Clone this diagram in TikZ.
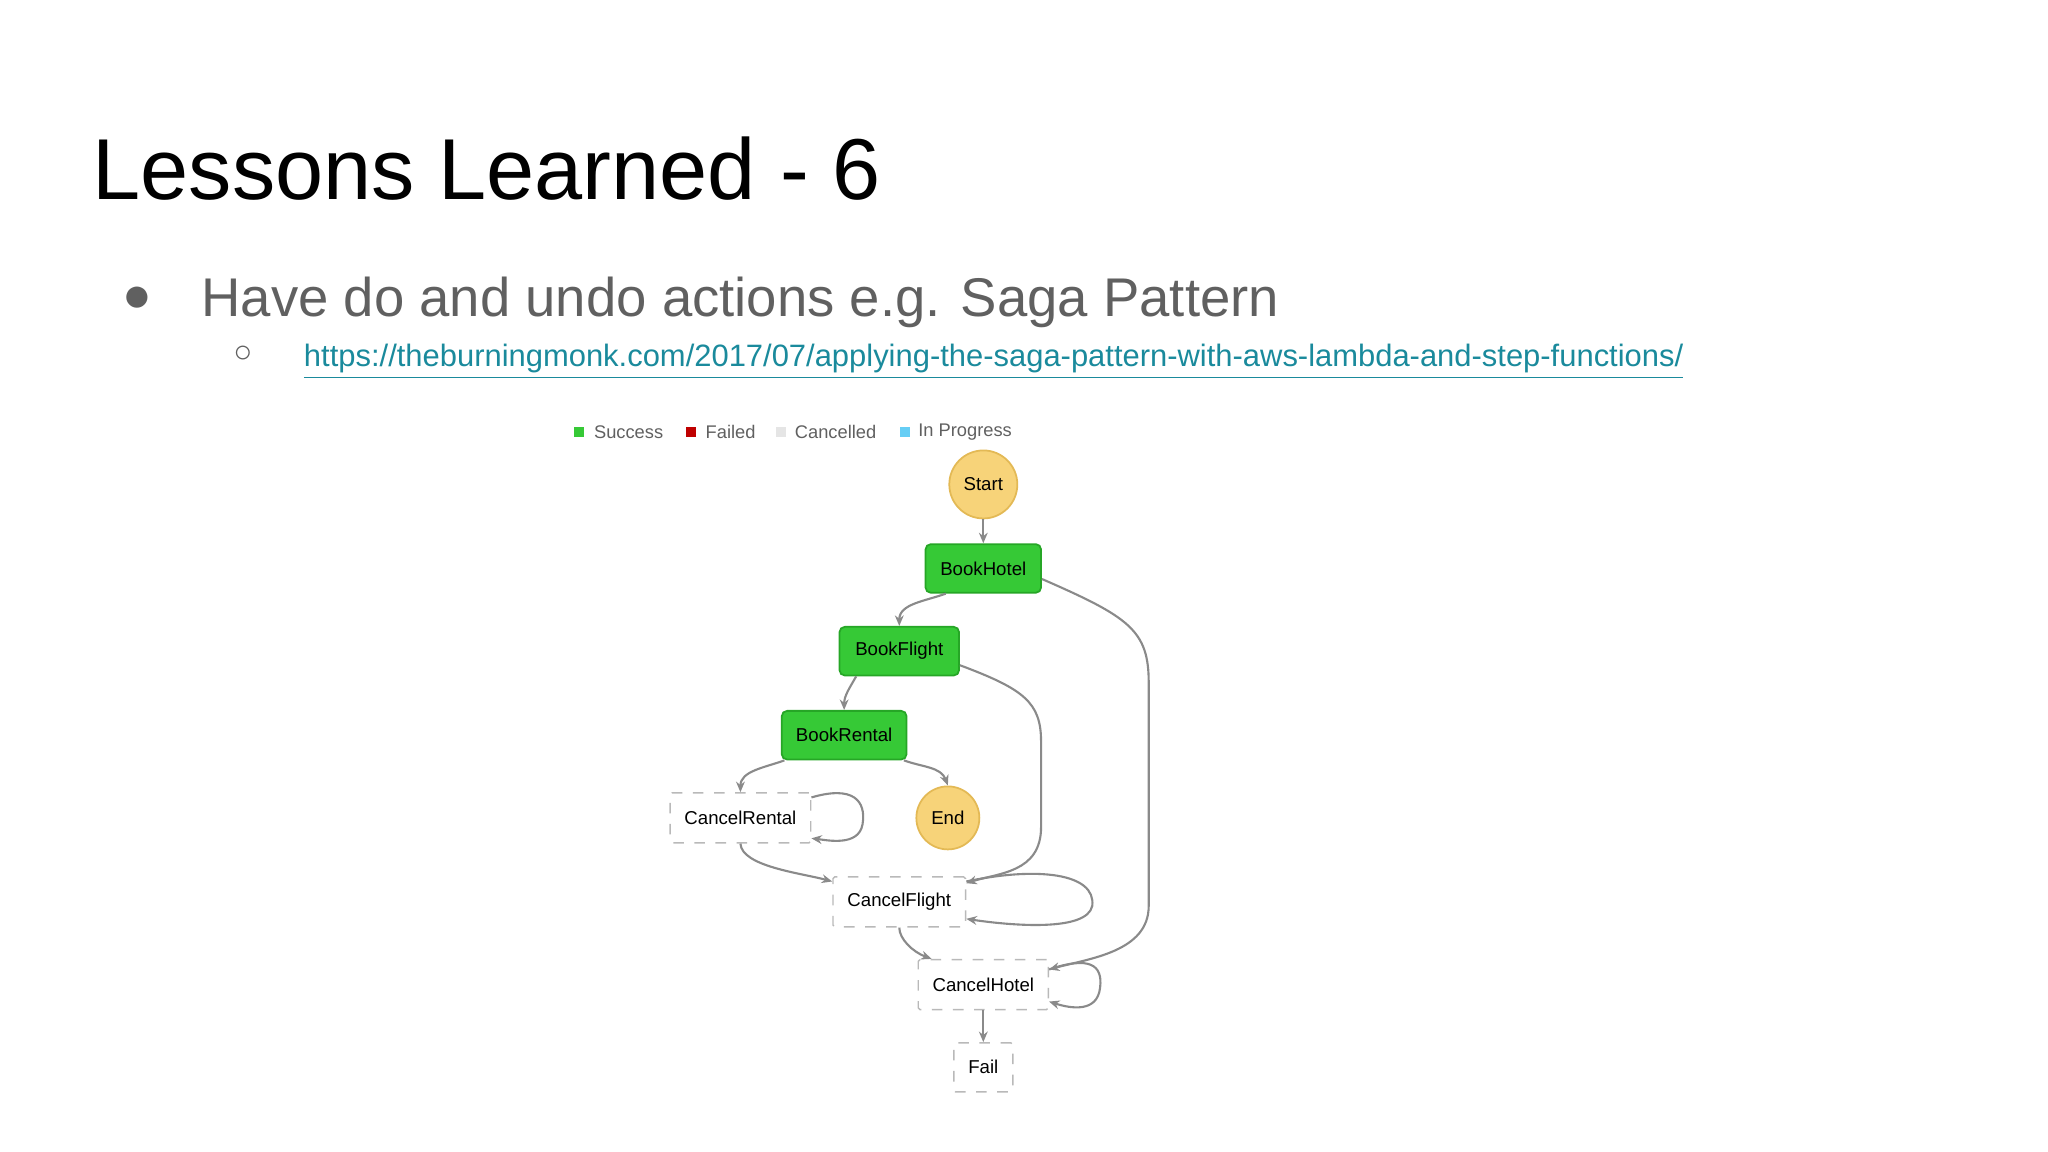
\documentclass[tikz,border=0pt]{standalone}
\usepackage{fontspec}
\setmainfont{Liberation Sans}
\usetikzlibrary{arrows.meta}
\definecolor{okgreen}{HTML}{36C936}
\definecolor{okborder}{HTML}{26A626}
\definecolor{ystate}{HTML}{F7D379}
\definecolor{yborder}{HTML}{E3B955}
\definecolor{linkc}{HTML}{1A8A9C}
\definecolor{edgec}{HTML}{8A8A8A}
\begin{document}
\begin{tikzpicture}[x=0.01313cm,y=-0.01313cm,
  st/.style={rounded corners=1.5pt,minimum height=0.486cm,font=\fontsize{5.3}{6}\selectfont,inner sep=0pt},
  ok/.style={st,fill=okgreen,draw=okborder,line width=0.5pt},
  cx/.style={st,fill=white,draw=gray!55,dashed,line width=0.4pt,rounded corners=0.5pt},
  term/.style={circle,fill=ystate,draw=yborder,line width=0.5pt,font=\fontsize{5.3}{6}\selectfont,inner sep=0pt},
  e/.style={draw=edgec,line width=0.6pt,-{Stealth[length=3pt,width=2.5pt]}},
  lg/.style={font=\fontsize{5.2}{6}\selectfont,text=gray!75!black,anchor=west,inner sep=0pt}]
\useasboundingbox (0,0) rectangle (1560,877.4);
\node[anchor=base west,inner sep=0pt,font=\fontsize{24.6}{28}\selectfont] (title) at (70,152) {Lessons Learned - 6};
\node[inner sep=0pt,text=gray!75!black,font=\fontsize{14}{16}\selectfont] (b1) at (105,228) {●};
\node[anchor=base west,inner sep=0pt,text=gray!75!black,font=\fontsize{15.5}{18}\selectfont] (t1) at (153,241) {Have do and undo actions e.g. Saga Pattern};
\node[inner sep=0pt,text=gray!75!black,font=\fontsize{9}{10}\selectfont] (b2) at (185,270) {○};
\node[anchor=base west,inner sep=0pt,text=linkc,font=\fontsize{8.8}{10}\selectfont] (lnk) at (231,279) {\underline{https://theburningmonk.com/2017/07/applying-the-saga-pattern-with-aws-lambda-and-step-functions/}};
% legend
\node[fill=okgreen,minimum size=0.1cm,inner sep=0pt] (l1) at (441,329) {};
\node[lg] (l1t) at (452,329) {Success};
\node[fill=red!75!black,minimum size=0.1cm,inner sep=0pt] (l2) at (526,329) {};
\node[lg] (l2t) at (537,329) {Failed};
\node[fill=gray!20,minimum size=0.1cm,inner sep=0pt] (l3) at (595,329) {};
\node[lg] (l3t) at (605,329) {Cancelled};
\node[fill=cyan!60,minimum size=0.1cm,inner sep=0pt] (l4) at (689,329) {};
\node[lg] (l4t) at (699,329) {In Progress};
% states
\node[term,minimum size=0.68cm] (start) at (749,369) {Start};
\node[ok,minimum width=1.155cm] (bh) at (749,433) {BookHotel};
\node[ok,minimum width=1.195cm] (bf) at (685,496) {BookFlight};
\node[ok,minimum width=1.247cm] (br) at (643,560) {BookRental};
\node[cx,minimum width=1.405cm,minimum height=0.5cm] (cr) at (564,623) {CancelRental};
\node[term,minimum size=0.63cm] (end) at (722,623) {End};
\node[cx,minimum width=1.326cm,minimum height=0.5cm] (cf) at (685,687) {CancelFlight};
\node[cx,minimum width=1.30cm,minimum height=0.5cm] (ch) at (749,750) {CancelHotel};
\node[cx,minimum width=0.59cm,minimum height=0.49cm] (fail) at (749,813) {Fail};
% edges
\draw[e] (start) -- (bh);
\draw[e] ([xshift=6pt]bh.south west) to[out=-160,in=90] ([xshift=0pt]bf.north);
\draw[e] ([xshift=5pt]bf.south west) to[out=-120,in=90] (br.north);
\draw[e] ([xshift=1pt]br.south west) to[out=-160,in=90] (cr.north);
\draw[e] ([xshift=-1pt]br.south east) to[out=-20,in=110] (end.north);
\draw[e] ([yshift=-3pt]bh.east) .. controls (860,470) and (875,480) .. (875,520) -- (875,690) .. controls (875,725) and (830,730) .. ([yshift=-3pt]ch.north east);
\draw[e] ([yshift=-4pt]bf.east) .. controls (780,525) and (793,535) .. (793,565) -- (793,630) .. controls (793,665) and (760,665) .. ([yshift=-2pt]cf.north east);
\draw[e] (cr.south) .. controls (565,660) and (610,665) .. ([yshift=-1.5pt]cf.north west);
\draw[e] (cf.south) .. controls (685,715) and (695,725) .. ([xshift=4pt]ch.north west);
\draw[e] ([yshift=-1.5pt]cr.north east) .. controls (650,598) and (660,610) .. (657,628) .. controls (654,645) and (630,640) .. ([yshift=1.5pt]cr.south east);
\draw[e] ([yshift=-1.5pt]cf.north east) .. controls (790,660) and (835,665) .. (832,690) .. controls (828,710) and (770,705) .. ([yshift=2.5pt]cf.south east);
\draw[e] ([yshift=-3pt]ch.north east) .. controls (830,728) and (840,735) .. (838,752) .. controls (836,772) and (815,768) .. ([yshift=2.5pt]ch.south east);
\draw[e] (ch) -- (fail);
\end{tikzpicture}
\end{document}
